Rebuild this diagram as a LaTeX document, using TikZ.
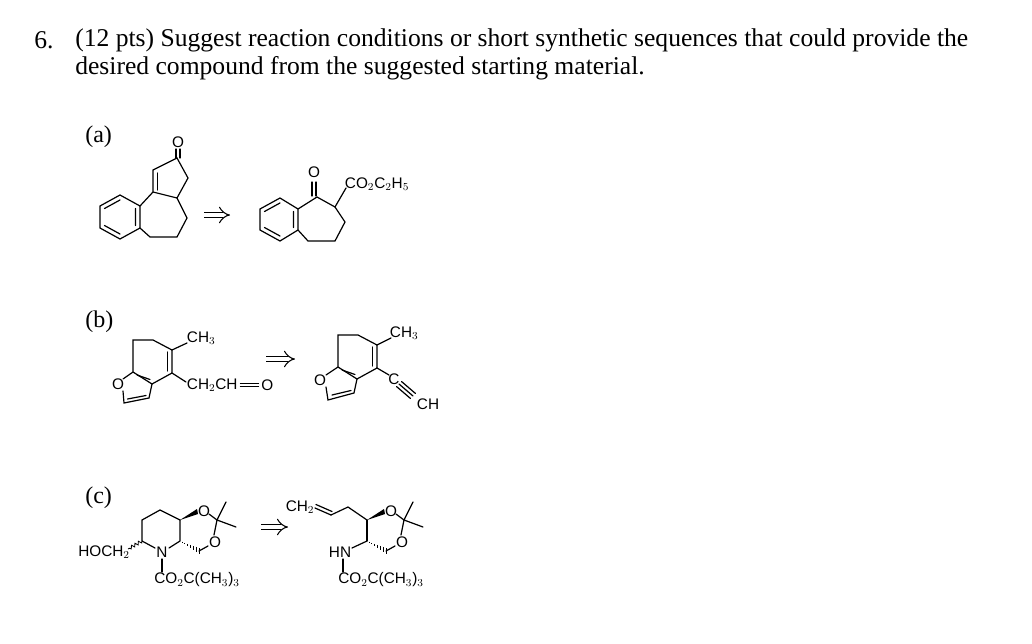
\documentclass[tikz,border=0pt]{standalone}
\usepackage{fontspec}
\setmainfont{Liberation Serif}
\newfontfamily\chem{Liberation Sans}
\usetikzlibrary{arrows.meta,decorations.pathmorphing,calc}
\tikzset{
 bd/.style={line width=0.9pt,line cap=round},
 lab/.style={font=\chem\fontsize{11.5}{13}\selectfont,inner sep=0.5pt},
 rx/.style={double,double distance=3.6pt,line width=0.8pt,-{Implies[]}},
 tt/.style={font=\fontsize{19.2}{23}\selectfont,anchor=west,inner sep=0},
 pl/.style={font=\fontsize{18}{21}\selectfont,anchor=west,inner sep=0}
}
\begin{document}
\begin{tikzpicture}[x=0.75pt,y=-0.75pt]
\useasboundingbox (0,0) rectangle (1032,643);
\fill[white] (0,0) rectangle (1032,643);
% title
\node[tt] (n6) at (34,40) {6.};
\node[tt] (t1) at (75,40) {(12 pts) Suggest reaction conditions or short synthetic sequences that could provide the};
\node[tt] (t2) at (75,68) {desired compound from the suggested starting material.};
\node[pl] (la) at (85,137) {(a)};
\node[pl] (lb) at (85,322) {(b)};
\node[pl] (lc) at (85,498) {(c)};

% ===== (a) starting material
\draw[bd] (120,195)--(100,206)--(100,228)--(120,239)--(140,228)--(140,206)--cycle;
\draw[bd] (120,200)--(104.5,208.5) (104.5,225.5)--(120,234) (135.5,225.5)--(135.5,208.5);
\draw[bd] (140,206)--(153,192)--(153,170)--(177,158)--(188,178)--(177,198)--(153,192);
\draw[bd] (157.5,190)--(157.5,173);
\node[lab] (oa1) at (178,142) {O};
\draw[bd] (176,158)--(176,149) (180,158)--(180,149);
\draw[bd] (177,198)--(187,218)--(177,237)--(150,237)--(140,228);
\draw[rx] (204,215)--(230,215);

% (a) product
\draw[bd] (280,198)--(260,209)--(260,230)--(280,241)--(298,230)--(298,209)--cycle;
\draw[bd] (280,203)--(264.5,211.5) (264.5,227.5)--(280,236) (293.5,227.5)--(293.5,211.5);
\draw[bd] (298,209)--(317,197)--(335,207)--(345,222)--(335,241)--(308,241)--(298,230);
\node[lab] (oa2) at (314,172) {O};
\draw[bd] (312,182)--(312,196) (316,182)--(316,196);
\draw[bd] (335,207)--(346,188);
\node[lab,anchor=west] (est) at (344,184) {CO$_2$C$_2$H$_5$};

% ===== (b) starting material
\draw[bd] (133,372)--(133,340)--(153,340)--(172,350)--(172,373)--(152,384)--cycle;
\draw[bd] (167.5,352)--(167.5,371);
\draw[bd] (137,375)--(150,379.5);
\node[lab] (ob1) at (118,384) {O};
\draw[bd] (133,372)--(123,379) (123,391)--(124,403)--(149,398)--(152,384);
\draw[bd] (127.5,399)--(146,395.5);
\draw[bd] (172,350)--(187,343);
\node[lab,anchor=west] (me1) at (186,338) {CH$_3$};
\draw[bd] (172,373)--(186,382);
\node[lab,anchor=west] (ald) at (186,385) {CH$_2$CH};
\draw[bd] ($(ald.east)+(2,-1.8)$)--++(18,0) ($(ald.east)+(2,1.8)$)--++(18,0);
\node[lab,anchor=west] (ob2) at ($(ald.east)+(22,0)$) {O};
\draw[rx] (266,359)--(295,359);

% (b) product
\draw[bd] (338,367)--(338,335)--(358,335)--(377,345)--(377,368)--(357,379)--cycle;
\draw[bd] (372.5,347)--(372.5,366);
\draw[bd] (342,370)--(355,374.5);
\node[lab] (ob3) at (320,380) {O};
\draw[bd] (338,367)--(326,375) (326,387)--(328,400)--(354,393)--(357,379);
\draw[bd] (332,395)--(351,390.5);
\draw[bd] (377,345)--(391,338);
\node[lab,anchor=west] (me2) at (389,333) {CH$_3$};
\draw[bd] (377,368)--(389,375);
\node[lab] (cc) at (394,379) {C};
\draw[bd] (399,384)--(413,396) (401.5,381.5)--(415.5,393.5) (396.5,386.5)--(410.5,398.5);
\node[lab] (ch) at (428,404) {CH};

% ===== (c) starting material
\draw[bd] (155,548)--(142,541)--(142,520)--(160,510)--(180,520);
\draw[bd] (169,548)--(180,541)--(180,520);
\node[lab] (N1) at (162,552) {N};
\fill (180,520)--(197,509)--(198,514)--cycle;
\node[lab] (O1) at (204,511) {O};
\draw[bd] (209,514)--(217,520)--(214,535);
\node[lab] (O2) at (215,542) {O};
\draw[bd] (217,520)--(226,502) (217,520)--(236,527);
\draw[bd] (208,546)--(199,551);
\foreach \t in {0.1,0.25,0.4,0.55,0.7,0.85,1.0}{
 \draw[line width=0.6pt] ($(180,541)!\t!(199,551)+(0,-3*\t)$)--($(180,541)!\t!(199,551)+(0,3*\t)$);}
\draw[line width=0.6pt,decorate,decoration={snake,amplitude=1.2pt,segment length=3pt}] (142,541)--(128,549);
\node[lab] (hoc) at (104,552) {HOCH$_2$};
\draw[bd] (162,559)--(162,572);
\node[lab] (boc1) at (197,580) {CO$_2$C(CH$_3$)$_3$};
\draw[rx] (261,527)--(288,527);

% (c) product
\node[lab] (ch2) at (300,507) {CH$_2$};
\draw[bd] (315,508)--(331,515) (316,504.5)--(332,511.5);
\draw[bd] (331,515)--(348,507)--(367,520);
\fill (367,520)--(384,509)--(385,514)--cycle;
\node[lab] (O3) at (391,511) {O};
\draw[bd] (396,514)--(404,520)--(401,535);
\node[lab] (O4) at (402,542) {O};
\draw[bd] (404,520)--(413,502) (404,520)--(423,527);
\draw[bd] (395,546)--(386,551);
\foreach \t in {0.1,0.25,0.4,0.55,0.7,0.85,1.0}{
 \draw[line width=0.6pt] ($(367,541)!\t!(386,551)+(0,-3*\t)$)--($(367,541)!\t!(386,551)+(0,3*\t)$);}
\draw[bd] (367,520)--(367,541);
\draw[bd] (352,548)--(367,541);
\node[lab] (hn) at (340,552) {HN};
\draw[bd] (343,559)--(343,572);
\node[lab] (boc2) at (381,580) {CO$_2$C(CH$_3$)$_3$};
\end{tikzpicture}
\end{document}
